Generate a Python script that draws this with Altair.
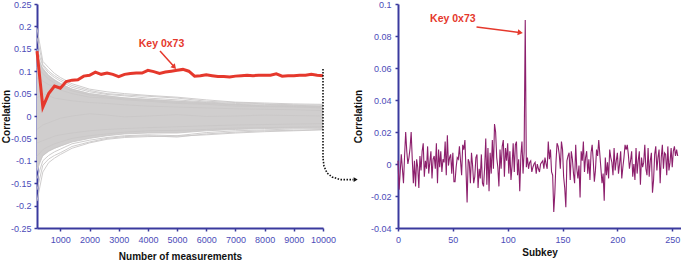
import altair as alt
import pandas as pd

# ---------------- data (correlation values in thousandths) ----------------
gray_x = [200, 400, 600, 800, 1000, 1400, 2000, 2600, 3200, 4000, 5000, 6000, 7000, 8000, 9000, 10000]
gray_lines = [
    [196, 122, 108, 95, 86, 72, 60, 54, 50, 46, 42, 36, 31, 29, 27, 26],
    [175, 115, 100, 90, 82, 68, 57, 50, 47, 44, 40, 33, 30, 27, 25, 24],
    [150, 112, 96, 86, 78, 64, 54, 48, 45, 40, 36, 31, 28, 26, 24, 22],
    [130, 104, 90, 80, 72, 60, 50, 45, 40, 37, 33, 30, 26, 24, 23, 21],
    [108, 95, 82, 74, 66, 56, 47, 42, 38, 35, 30, 28, 25, 22, 21, 20],
    [85, 78, 70, 64, 58, 50, 42, 40, 36, 33, 28, 26, 22, 21, 20, 18],
    [40, 50, 45, 40, 38, 34, 30, 28, 25, 22, 20, 18, 16, 15, 14, 12],
    [-30, -20, -15, -10, -5, 0, 5, 2, -2, 0, 3, -1, 0, 2, 1, 0],
    [-60, -55, -50, -45, -42, -38, -33, -30, -28, -26, -24, -22, -20, -19, -18, -17],
    [-90, -75, -68, -62, -58, -50, -44, -40, -36, -33, -32, -30, -27, -26, -25, -24],
    [-115, -88, -78, -72, -67, -58, -50, -44, -40, -38, -38, -33, -30, -28, -27, -26],
    [-140, -100, -88, -80, -74, -62, -54, -48, -44, -42, -44, -37, -33, -31, -29, -28],
    [-165, -110, -96, -88, -82, -68, -58, -50, -46, -44, -47, -40, -36, -33, -32, -30],
    [-190, -125, -104, -94, -86, -72, -60, -52, -48, -46, -45, -42, -38, -35, -33, -31],
]
band_hi = [140, 108, 92, 82, 74, 61, 51, 46, 42, 38, 34, 30, 27, 24, 23, 22]
band_lo = [-125, -90, -80, -73, -68, -58, -50, -44, -40, -38, -38, -33, -30, -28, -27, -26]

red_x = [200, 400, 600, 800, 1000, 1200, 1400, 1600, 1800, 2000,
         2200, 2400, 2600, 2800, 3000, 3200, 3400, 3600, 3800, 4000,
         4200, 4400, 4600, 4800, 5000, 5200, 5400, 5600, 5800, 6000,
         6200, 6400, 6600, 6800, 7000, 7200, 7400, 7600, 7800, 8000,
         8200, 8400, 8600, 8800, 9000, 9200, 9400, 9600, 9800, 10000]
red_y = [145, 20, 50, 67, 62, 77, 80, 81, 89, 91,
         98, 93, 96, 93, 88, 93, 95, 96, 96, 102,
         99, 95, 98, 100, 102, 104, 100, 89, 90, 92,
         90, 88, 88, 87, 89, 90, 91, 90, 91, 91,
         91, 94, 89, 90, 90, 91, 91, 93, 91, 90]

subkey_corr = [
    2, -16, -5, 6, -3, -12, 5, 20, 8, 0, 4, 10, 20, 3, -12, 2,
    -14, 3, -2, -15, 5, -4, 8, 13, -8, 2, -3, 11, -6, 1, 8, -9,
    3, 5, -3, 13, -12, 9, -2, 8, -5, 3, 1, 14, -7, 18, -1, 4,
    6, -6, 7, -11, -11, -2, 4, 3, 11, 2, -7, 12, 9, 15, -4, -24,
    3, 1, -12, 7, -1, -12, -8, 4, 6, -15, -3, -9, 6, -12, -14, -2,
    16, -13, 10, -17, 7, -6, 15, -3, 25, 20, 4, -2, -14, 9, -3, 11,
    15, -8, 10, 2, 13, -6, 8, -10, -1, 13, -5, 12, 14, -7, 3, -17,
    5, 14, -6, 8, 90, -2, 4, -3, 1, 2, -5, -2, 0, 1, -6, 0,
    -3, -5, 0, 1, 2, -3, 4, 0, -3, 14, 3, 9, -5, -7, -30, -18,
    1, 13, 11, 6, -3, 14, 9, -8, -15, -27, 2, 5, 7, -10, 8, 3,
    -6, -12, 12, -3, -9, -1, -21, 8, 2, 14, -5, 4, 8, -6, 3, -10,
    7, 12, 2, -11, -4, 9, 5, 15, 6, -3, -12, -6, -23, 4, -7, 1,
    -9, 9, 4, 1, -7, 10, -4, 2, 7, -6, 0, 8, -9, -2, 4, 12,
    9, 12, 6, -3, 2, 8, -8, 0, -10, 10, -6, 2, 8, -13, 4, -2,
    1, 12, -3, -7, 10, -8, 2, 7, -18, -10, 6, 11, -4, 4, 9, -12,
    4, 12, -3, 7, 6, -7, 11, -4, 1, 10, -2, 8, 11, 5, 9, 5,
]

left_ticks_x = [1000, 2000, 3000, 4000, 5000, 6000, 7000, 8000, 9000, 10000]
left_ticks_y = [-0.25, -0.2, -0.15, -0.1, -0.05, 0, 0.05, 0.1, 0.15, 0.2, 0.25]
right_ticks_x = [0, 50, 100, 150, 200, 250]
right_ticks_y = [-0.04, -0.02, 0, 0.02, 0.04, 0.06, 0.08, 0.1]

# annotation anchors (data coordinates)
left_label = {"n": 4466, "v": 0.161}
left_arrow = {"n": [4415, 4900], "v": [0.145, 0.110]}
left_head = {"n": 4905, "v": 0.109}
right_label = {"n": 50, "v": 0.0905}
right_arrow = {"n": [71.6, 110.5], "v": [0.0856, 0.0822]}
right_head = {"n": 111.5, "v": 0.0821}
link_path = {"n": [10000, 10000, 10034, 10137, 10308, 10582, 11040],
             "v": [0.105, -0.094, -0.112, -0.127, -0.136, -0.142, -0.142]}
link_head = {"n": 11120, "v": -0.142}

# ---------------- styles ----------------
FONT = "Liberation Sans"
AXC = "#3a3a9e"
LABC = "#4b4bb8"
RED = "#e5382c"
PURPLE = "#8c1f6c"
GRAY = "#c9c7c7"

rows = []
for gi, line in enumerate(gray_lines):
    for xv, yv in zip(gray_x, line):
        rows.append({"g": gi, "n": xv, "v": yv / 1000})
gray_df = pd.DataFrame(rows)
band_df = pd.DataFrame({"n": gray_x, "v": [v / 1000 for v in band_hi], "lo": [v / 1000 for v in band_lo]})
red_df = pd.DataFrame({"n": red_x, "v": [v / 1000 for v in red_y]})
sub_df = pd.DataFrame({"n": list(range(len(subkey_corr))), "v": [v / 1000 for v in subkey_corr]})

minus_fix = "replace(datum.label, '\u2212', '-')"

lx = alt.X("n:Q", scale=alt.Scale(domain=[200, 10000], nice=False, zero=False),
           axis=alt.Axis(values=left_ticks_x, format="d", title="Number of measurements",
                         titlePadding=7, labelOverlap=False))
ly = alt.Y("v:Q", scale=alt.Scale(domain=[-0.25, 0.25], nice=False, zero=False),
           axis=alt.Axis(values=left_ticks_y, format="~g", labelExpr=minus_fix,
                         title="Correlation", titleX=-31, titleY=112,
                         titleBaseline="middle", labelPadding=3, labelOverlap=False))

band = alt.Chart(band_df).mark_area(color="#d0cece").encode(x=lx, y=ly, y2="lo:Q")
grays = alt.Chart(gray_df).mark_line(color=GRAY, strokeWidth=0.9).encode(x=lx, y=ly, detail="g:N")
red = alt.Chart(red_df).mark_line(color=RED, strokeWidth=3).encode(x=lx, y=ly)

link_df = pd.DataFrame({"n": link_path["n"], "v": link_path["v"], "i": list(range(len(link_path["n"])))})
link = alt.Chart(link_df).mark_line(color="#111111", strokeWidth=1.6, strokeDash=[1.5, 1.5], clip=False).encode(
    x=lx, y=ly, order="i:Q")
link_tip = alt.Chart(pd.DataFrame([link_head])).mark_point(
    shape="triangle-right", filled=True, color="#111111", size=22, opacity=1, clip=False).encode(x=lx, y=ly)

ltext = alt.Chart(pd.DataFrame([left_label])).mark_text(
    text="Key 0x73", font=FONT, fontSize=10.5, fontWeight="bold", color=RED).encode(x=lx, y=ly)
larrow = alt.Chart(pd.DataFrame(left_arrow)).mark_line(color=RED, strokeWidth=1.5).encode(x=lx, y=ly)
lhead = alt.Chart(pd.DataFrame([left_head])).mark_point(
    shape="triangle-up", angle=139, filled=True, color=RED, size=35, opacity=1).encode(x=lx, y=ly)

left = alt.layer(band, grays, red, link, link_tip, larrow, lhead, ltext).properties(width=286, height=224)

rx = alt.X("n:Q", scale=alt.Scale(domain=[0, 258], nice=False, zero=False),
           axis=alt.Axis(values=right_ticks_x, title="Subkey", titlePadding=3, labelOverlap=False))
ry = alt.Y("v:Q", scale=alt.Scale(domain=[-0.04, 0.1], nice=False, zero=False),
           axis=alt.Axis(values=right_ticks_y, format="~g", labelExpr=minus_fix,
                         title="Correlation", titleX=-39.5, titleY=112,
                         titleBaseline="middle", labelPadding=4, labelOverlap=False))

sub = alt.Chart(sub_df).mark_line(color=PURPLE, strokeWidth=1.1).encode(x=rx, y=ry)
rtext = alt.Chart(pd.DataFrame([right_label])).mark_text(
    text="Key 0x73", font=FONT, fontSize=10.5, fontWeight="bold", color=RED).encode(x=rx, y=ry)
rarrow = alt.Chart(pd.DataFrame(right_arrow)).mark_line(color=RED, strokeWidth=1.5).encode(x=rx, y=ry)
rhead = alt.Chart(pd.DataFrame([right_head])).mark_point(
    shape="triangle-up", angle=98, filled=True, color=RED, size=35, opacity=1).encode(x=rx, y=ry)

right = alt.layer(sub, rarrow, rhead, rtext).properties(width=283, height=224)

chart = alt.hconcat(left, right, spacing=75, bounds="flush").properties(
    padding={"left": 1, "top": 0, "right": 0, "bottom": 0}
).configure_view(stroke=None).configure_axis(
    grid=False, domainColor=AXC, domainWidth=2, tickColor=AXC, tickWidth=1.5, tickSize=3,
    labelColor=LABC, labelFont=FONT, labelFontSize=9, titleFont=FONT, titleFontSize=10,
    titleFontWeight="bold", titleColor="#111111", labelFlush=False
).configure_axisX(labelPadding=4)

chart.save("out.html", embed_options={"renderer": "svg", "actions": False})
